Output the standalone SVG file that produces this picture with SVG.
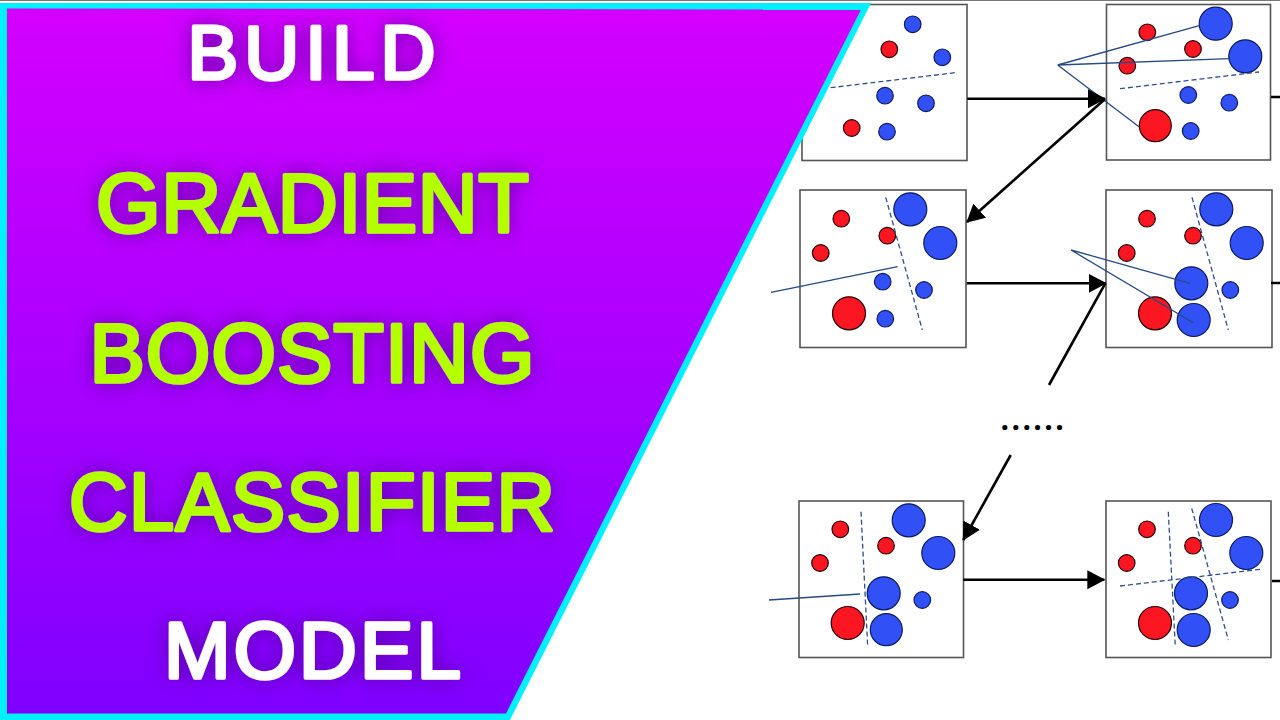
<svg xmlns="http://www.w3.org/2000/svg" width="1280" height="720" viewBox="0 0 1280 720">
<style>
.box{fill:#fff;stroke:#555;stroke-width:1.6}
.r{fill:#fb1622;stroke:#200;stroke-width:1.2}
.b{fill:#3150f5;stroke:#0a1a60;stroke-width:1.2}
.d{fill:none;stroke:#2f4f8f;stroke-width:1.3;stroke-dasharray:5 3}
.t{fill:none;stroke:#254a85;stroke-width:1.3}
.a{fill:none;stroke:#000;stroke-width:2.600}
.title{font-family:"Liberation Sans",Arial,sans-serif;font-weight:400;text-anchor:middle;stroke-linejoin:round;stroke-width:3.600;filter:url(#glow)}
.w{fill:#fff;stroke:#fff}
.g{fill:#b4ff00;stroke:#b4ff00}
</style>
<defs>
<linearGradient id="pg" x1="0" y1="0" x2="0" y2="1">
<stop offset="0" stop-color="#d400ff"/><stop offset="1" stop-color="#7f00ff"/>
</linearGradient>
<filter id="glow" x="-20%" y="-40%" width="140%" height="180%">
<feDropShadow dx="0" dy="0" stdDeviation="10" flood-color="#4a0090" flood-opacity=".8"/>
</filter>
<marker id="ah" markerUnits="userSpaceOnUse" markerWidth="20" markerHeight="20" refX="17" refY="10" orient="auto-start-reverse" viewBox="0 0 20 20"><path d="M0 .5 18 10 0 19.500z" fill="#000"/></marker>
</defs>
<rect width="1280" height="720" fill="#fff"/>
<rect width="1280" height="1" fill="#777"/>
<g id="node-1"><rect class="box" x="802" y="4.500" width="165" height="156"/>
<circle class="b" cx="912.700" cy="24.300" r="8.300"/><circle class="r" cx="889.300" cy="49.300" r="8.300"/><circle class="b" cx="942.300" cy="57.300" r="8.300"/><circle class="b" cx="885" cy="95.700" r="8.300"/><circle class="b" cx="926" cy="103.300" r="8.300"/><circle class="r" cx="851.700" cy="128" r="8.300"/><circle class="b" cx="887" cy="131.700" r="8.300"/>
<path class="d" d="M830.700 87.700 955 72.700"/></g>
<g id="node-2"><rect class="box" x="1106.500" y="4.500" width="164" height="155.500"/>
<circle class="r" cx="1147.300" cy="32.300" r="8.300"/><circle class="b" cx="1215.700" cy="23.700" r="16.500"/><circle class="r" cx="1193" cy="49" r="8.300"/><circle class="b" cx="1245.300" cy="56.300" r="16.500"/><circle class="r" cx="1127.300" cy="65.700" r="8.300"/><circle class="b" cx="1188.300" cy="95" r="8.300"/><circle class="b" cx="1229.300" cy="102.700" r="8.300"/><circle class="r" cx="1155.300" cy="125.700" r="16"/><circle class="b" cx="1190.700" cy="131" r="8.300"/>
<path class="d" d="M1120 88.700 1259 72"/></g>
<g id="node-3"><rect class="box" x="800" y="190" width="166" height="157.500"/>
<circle class="r" cx="841.300" cy="218.700" r="8.300"/><circle class="b" cx="910.300" cy="209.300" r="16.500"/><circle class="r" cx="887.300" cy="235.700" r="8.300"/><circle class="b" cx="940.300" cy="243" r="16.500"/><circle class="r" cx="820.700" cy="253" r="8.300"/><circle class="b" cx="882.700" cy="281.700" r="8.300"/><circle class="b" cx="924" cy="290" r="8.300"/><circle class="r" cx="849" cy="313.300" r="16.500"/><circle class="b" cx="885.300" cy="318.700" r="8.300"/>
<path class="d" d="M885.700 197.300 922.300 330"/></g>
<g id="node-4"><rect class="box" x="1106" y="190" width="166" height="157.500"/>
<circle class="r" cx="1147" cy="218.700" r="8.300"/><circle class="b" cx="1216.300" cy="209.300" r="16.500"/><circle class="r" cx="1193" cy="235.700" r="8.300"/><circle class="b" cx="1246.700" cy="243" r="16.500"/><circle class="r" cx="1126.700" cy="253" r="8.300"/><circle class="b" cx="1191.300" cy="283.300" r="16.500"/><circle class="b" cx="1230.300" cy="290" r="8.300"/><circle class="r" cx="1155" cy="313.300" r="16.500"/><circle class="b" cx="1193.700" cy="320" r="16.500"/>
<path class="d" d="M1192 197.300 1228.300 330"/></g>
<g id="node-5"><rect class="box" x="799" y="501" width="164.500" height="156.500"/>
<circle class="r" cx="840.300" cy="529.300" r="8.300"/><circle class="b" cx="908.700" cy="520.300" r="16.500"/><circle class="r" cx="886" cy="545.700" r="8.300"/><circle class="b" cx="938.300" cy="553" r="16.500"/><circle class="r" cx="820" cy="563" r="8.300"/><circle class="b" cx="883.700" cy="593.300" r="16.500"/><circle class="b" cx="922.300" cy="600" r="8.300"/><circle class="r" cx="847.700" cy="623" r="16.500"/><circle class="b" cx="886.300" cy="629.700" r="16"/>
<path class="d" d="M861 511.700 867.700 646.700"/></g>
<g id="node-6"><rect class="box" x="1106" y="501" width="165" height="156.500"/>
<circle class="r" cx="1147" cy="529.300" r="8.300"/><circle class="b" cx="1216" cy="520" r="16.500"/><circle class="r" cx="1193" cy="545.700" r="8.300"/><circle class="b" cx="1246.300" cy="553" r="16.500"/><circle class="r" cx="1126.700" cy="563" r="8.300"/><circle class="b" cx="1191" cy="593.300" r="16.500"/><circle class="b" cx="1230" cy="600" r="8.300"/><circle class="r" cx="1155" cy="623" r="16.500"/><circle class="b" cx="1193.700" cy="630" r="16.500"/>
<path class="d" d="M1168.300 511.700 1175.300 646.700M1191.700 508.300 1228.300 640M1120 586 1260 569.300"/></g>
<g id="connectors">
<path class="t" d="M1199.300 25.700 1057.700 65 1229.300 58.700M1057.700 65 1139 126.700"/>
<path class="t" d="M771 292.300 897.700 266.700"/>
<path class="t" d="M1190 283.300 1071 250 1193.300 322.700"/>
<path class="t" d="M769 600 860 594"/>
<path class="a" d="M967.300 98.700H1105" marker-end="url(#ah)"/>
<path class="a" d="M967 222 1105 99" marker-start="url(#ah)"/>
<path class="a" d="M966.700 283.300H1105.700" marker-end="url(#ah)"/>
<path class="a" d="M1049 385 1105.300 283.300"/>
<path class="a" d="M1010.700 455 963.300 540" marker-end="url(#ah)"/>
<path class="a" d="M963.300 579.700H1104.300" marker-end="url(#ah)"/>
<path class="a" d="M1271 97H1280M1271 283H1280M1272 581H1280"/>
</g>
<text id="ellipsis" x="1000.500" y="429.500" font-family="Open Sans, sans-serif" font-weight="700" font-size="30" letter-spacing="2.400" fill="#000">......</text>
<g id="panel">
<polygon points="0,3 871,3 510,720 0,720" fill="#00f0ff"/>
<polygon points="7,8.500 861,9.500 506,713.500 7,713.500" fill="url(#pg)"/>
</g>
<g id="title">
<text class="title w" x="311.500" y="78.500" font-size="76" textLength="248" lengthAdjust="spacing">BUILD</text>
<text class="title g" x="312.500" y="231.500" font-size="83" textLength="433" lengthAdjust="spacing">GRADIENT</text>
<text class="title g" x="312" y="382" font-size="83" textLength="445" lengthAdjust="spacing">BOOSTING</text>
<text class="title g" x="312" y="530" font-size="81" textLength="486" lengthAdjust="spacing">CLASSIFIER</text>
<text class="title w" x="312.500" y="678" font-size="80" textLength="297" lengthAdjust="spacing">MODEL</text>
</g>
</svg>
